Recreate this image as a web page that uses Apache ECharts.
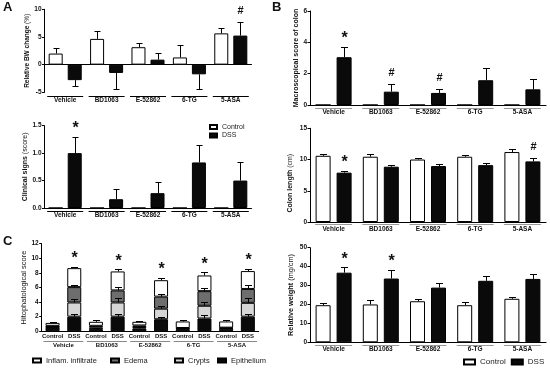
<!DOCTYPE html>
<html><head><meta charset="utf-8">
<script src="https://cdn.jsdelivr.net/npm/echarts@6/dist/echarts.min.js"></script>
<style>html,body{margin:0;padding:0;background:#fff}#c{width:550px;height:370px}</style>
</head><body><div id="c"></div>
<script>
const F = "'Liberation Sans', Arial, Helvetica, sans-serif";
const groups = ['Vehicle', 'BD1063', 'E-52862', '6-TG', '5-ASA'];
const histoSub = ['Control', 'DSS'];

// A (top): relative body-weight change (%)
const bwCtrl = [2.0, 4.65, 3.15, 1.3, 5.65];
const bwCtrlErr = [3.0, 6.05, 3.95, 3.5, 6.6];
const bwDss = [-2.8, -1.5, 0.9, -1.75, 5.25];
const bwDssErr = [-3.95, -4.4, 2.15, -4.4, 7.65];
const bwDssMark = ['', '', '', '', '#'];

// A (bottom): clinical signs (score)
const csCtrl = [0, 0, 0, 0, 0];
const csDss = [1.0, 0.16, 0.27, 0.83, 0.5];
const csDssErr = [1.3, 0.34, 0.47, 1.14, 0.84];
const csDssMark = ['*', '', '', '', ''];

// B (top): macroscopical score of colon
const macCtrl = [0, 0, 0, 0, 0];
const macDss = [3.05, 0.85, 0.77, 1.58, 1.0];
const macDssErr = [3.7, 1.34, 1.0, 2.35, 1.63];
const macDssMark = ['*', '#', '#', '', ''];

// B (middle): colon length (cm)
const clCtrl = [10.6, 10.45, 10.0, 10.45, 11.2];
const clCtrlErr = [10.9, 10.9, 10.3, 10.75, 11.75];
const clDss = [7.9, 8.85, 8.95, 9.1, 9.7];
const clDssErr = [8.2, 9.2, 9.25, 9.5, 10.3];
const clDssMark = ['*', '', '', '', '#'];

// B (bottom): relative weight (mg/cm)
const rwCtrl = [19.6, 20.0, 21.7, 19.6, 23.0];
const rwCtrlErr = [20.7, 22.1, 22.8, 21.4, 24.0];
const rwDss = [36.8, 33.7, 28.9, 32.5, 33.5];
const rwDssErr = [39.6, 38.4, 31.4, 34.9, 36.3];
const rwDssMark = ['*', '*', '', '', ''];

// C: histopathological score, stacked components
const epiCtrl = [0.6, 0.3, 0.4, 0.3, 0.35];
const crypCtrl = [0.05, 0.25, 0.2, 0.1, 0.1];
const edemaCtrl = [0.1, 0.2, 0.2, 0.05, 0.05];
const inflCtrl = [0.4, 0.55, 0.5, 0.9, 0.85];
const epiErrCtrl = [0.7, 0.45, 0.55, 0.4, 0.45];
const inflErrCtrl = [1.3, 1.55, 1.45, 1.6, 1.6];
const epiDss = [2.0, 2.0, 1.65, 1.75, 2.0];
const crypDss = [1.95, 1.95, 1.45, 1.75, 1.9];
const edemaDss = [2.1, 1.65, 1.65, 2.0, 1.9];
const inflDss = [2.6, 2.6, 2.25, 2.15, 2.45];
const epiErrDss = [2.35, 2.4, 1.95, 2.2, 2.4];
const crypErrDss = [4.4, 4.5, 3.5, 4.0, 4.5];
const edemaErrDss = [6.35, 6.1, 5.1, 5.95, 6.3];
const inflErrDss = [8.85, 8.5, 7.3, 8.1, 8.6];
const histoDssMark = ['*', '*', '*', '*', '*'];

// ---------- helpers ----------
const inter = (c, d) => { const r = []; c.forEach((v, i) => { r.push(v, d[i]); }); return r; };
const histoCats = []; groups.forEach(() => histoSub.forEach(s => histoCats.push(s)));

function yAx(gi, min, max, interval, weight, gap, fs, boldPart, normPart, fmt, pad) {
  return {
    type: 'value', gridIndex: gi, min, max, interval,
    name: normPart ? '{b|' + boldPart + '}{n| ' + normPart + '}' : '{b|' + boldPart + '}',
    nameLocation: 'middle', nameGap: gap,
    nameTextStyle: { padding: pad || 0, rich: {
      b: { fontSize: fs, fontWeight: weight, fontFamily: F, color: '#111' },
      n: { fontSize: fs, fontFamily: F, color: '#111' } } },
    axisLine: { show: true, onZero: false, lineStyle: { color: '#000', width: 1 } },
    axisTick: { show: true, length: 2.5, lineStyle: { color: '#000', width: 1 } },
    splitLine: { show: false },
    axisLabel: { fontSize: 6.5, fontWeight: 'bold', fontFamily: F, color: '#111', margin: 3, formatter: fmt }
  };
}
function xLab(gi, data, margin, showLine, fs) {
  return {
    type: 'category', gridIndex: gi, data, position: 'bottom',
    axisLine: { show: showLine, onZero: false, lineStyle: { color: '#000', width: 1 } },
    axisTick: { show: false }, splitLine: { show: false },
    axisLabel: { interval: 0, margin, fontSize: fs || 6.5, fontWeight: 'bold', fontFamily: F, color: '#111' }
  };
}
function bars(xi, yi, name, data, width, gap, color, stack) {
  return { type: 'bar', name, xAxisIndex: xi, yAxisIndex: yi, data, barWidth: width, barGap: gap,
    stack, itemStyle: { color, borderColor: '#000', borderWidth: 1 }, silent: true };
}
function errS(xi, yi, vals, ends, offset, cap, marks) {
  const data = vals.map((v, i) => [i, v, ends[i]]);
  return { type: 'custom', xAxisIndex: xi, yAxisIndex: yi, data, encode: { x: 0, y: [1, 2] }, silent: true, z: 5,
    renderItem(params, api) {
      const i = api.value(0), v = api.value(1), e = api.value(2);
      const p0 = api.coord([i, v]), p1 = api.coord([i, e]);
      const x = Math.round(p0[0] + offset) + 0.5;
      const ye = Math.round(p1[1]) + 0.5;
      const ch = [];
      if (Math.abs(e - v) > 1e-9) {
        ch.push({ type: 'line', shape: { x1: x, y1: p0[1], x2: x, y2: ye }, style: { stroke: '#000', lineWidth: 1 } });
        ch.push({ type: 'line', shape: { x1: x - cap / 2, y1: ye, x2: x + cap / 2, y2: ye }, style: { stroke: '#000', lineWidth: 1 } });
      }
      const m = marks ? marks[params.dataIndex] : '';
      if (m) {
        const star = m === '*';
        ch.push({ type: 'text', style: { text: m, x: x, y: p1[1] - (star ? 8 : 11),
          align: 'center', verticalAlign: 'middle', textAlign: 'center', textVerticalAlign: 'middle',
          font: star ? "bold 16px 'Liberation Sans', sans-serif" : "bold 11px 'Liberation Sans', sans-serif", fill: '#111' } });
      }
      return { type: 'group', children: ch };
    } };
}
// group lines drawn under the axis, one per category band (per pair of bands when pairs > 1)
function groupLines(xi, yi, n, pairs, below, len, color) {
  const data = []; for (let i = 0; i < n; i++) data.push([i * pairs, 0]);
  return { type: 'custom', xAxisIndex: xi, yAxisIndex: yi, data, encode: { x: 0, y: 1 }, silent: true, clip: false, z: 5,
    renderItem(params, api) {
      const i = api.value(0);
      const a = api.coord([i, 0])[0], b = api.coord([i + pairs - 1, 0])[0];
      const cx = (a + b) / 2;
      const cs = params.coordSys;
      const y = Math.round(cs.y + cs.height + below) + 0.5;
      return { type: 'line', shape: { x1: cx - len / 2, y1: y, x2: cx + len / 2, y2: y }, style: { stroke: color, lineWidth: 1 } };
    } };
}

// ---------- C stacked tops ----------
const cEpi = inter(epiCtrl, epiDss), cCryp = inter(crypCtrl, crypDss), cEde = inter(edemaCtrl, edemaDss), cInf = inter(inflCtrl, inflDss);
const top1 = cEpi.map(v => v);
const top2 = top1.map((v, i) => v + cCryp[i]);
const top3 = top2.map((v, i) => v + cEde[i]);
const top4 = top3.map((v, i) => v + cInf[i]);
const e1 = inter(epiErrCtrl, epiErrDss);
const e2 = inter(top2.filter((v, i) => i % 2 === 0), crypErrDss);
const e3 = inter(top3.filter((v, i) => i % 2 === 0), edemaErrDss);
const e4 = inter(inflErrCtrl, inflErrDss);
const cMarks = inter(['', '', '', '', ''], histoDssMark);

const chart = echarts.init(document.getElementById('c'), null, { renderer: 'canvas' });
const W = '#fff', K = '#0a0a0a';
const legText = fs => ({ fontSize: fs, fontFamily: F, color: '#222' });
chart.setOption({
  animation: false,
  backgroundColor: '#fff',
  textStyle: { fontFamily: F },
  title: [
    { text: 'A', left: 3, top: 1, padding: 0, textStyle: { fontSize: 13, fontWeight: 'bold', fontFamily: F, color: '#111' } },
    { text: 'B', left: 272, top: 1, padding: 0, textStyle: { fontSize: 13, fontWeight: 'bold', fontFamily: F, color: '#111' } },
    { text: 'C', left: 3, top: 235, padding: 0, textStyle: { fontSize: 13, fontWeight: 'bold', fontFamily: F, color: '#111' } }
  ],
  legend: [
    { data: ['Control', 'DSS'], orient: 'vertical', left: 209, top: 123.5, itemWidth: 7, itemHeight: 4, itemGap: 1.5, padding: 0, selectedMode: false, icon: 'rect', textStyle: legText(7) },
    { data: ['Control', 'DSS'], left: 463, top: 358, itemWidth: 11, itemHeight: 5, itemGap: 5, padding: 0, selectedMode: false, icon: 'rect', textStyle: legText(8) },
    { data: ['Inflam. infiltrate'], left: 32, top: 356.5, itemWidth: 8, itemHeight: 4, padding: 0, selectedMode: false, icon: 'rect', textStyle: legText(7.5) },
    { data: ['Edema'], left: 110, top: 356.5, itemWidth: 8, itemHeight: 4, padding: 0, selectedMode: false, icon: 'rect', textStyle: legText(7.5) },
    { data: ['Crypts'], left: 174, top: 356.5, itemWidth: 8, itemHeight: 4, padding: 0, selectedMode: false, icon: 'rect', textStyle: legText(7.5) },
    { data: ['Epithelium'], left: 217, top: 356.5, itemWidth: 8, itemHeight: 4, padding: 0, selectedMode: false, icon: 'rect', textStyle: legText(7.5) }
  ],
  grid: [
    { left: 44.5, top: 9.3, width: 207, height: 83, outerBoundsMode: 'none' },
    { left: 44.5, top: 125.7, width: 207, height: 82.3, outerBoundsMode: 'none' },
    { left: 41.7, top: 243.7, width: 217, height: 87.6, outerBoundsMode: 'none' },
    { left: 310, top: 11, width: 236, height: 94, outerBoundsMode: 'none' },
    { left: 310, top: 128.3, width: 236, height: 93.7, outerBoundsMode: 'none' },
    { left: 310, top: 247.7, width: 236, height: 94.6, outerBoundsMode: 'none' }
  ],
  xAxis: [
    { type: 'category', gridIndex: 0, data: groups, position: 'bottom',
      axisLine: { show: true, onZero: true, lineStyle: { color: '#000', width: 1 } }, axisTick: { show: false }, axisLabel: { show: false } },
    xLab(0, groups, 4, false),
    xLab(1, groups, 3.5, true),
    { type: 'category', gridIndex: 2, data: histoCats, position: 'bottom',
      axisLine: { show: true, onZero: false, lineStyle: { color: '#000', width: 1 } }, axisTick: { show: false },
      axisLabel: { interval: 0, margin: 2, fontSize: 6, fontWeight: 'bold', fontFamily: F, color: '#111' } },
    xLab(2, groups, 11.5, false, 6),
    xLab(3, groups, 4, true),
    xLab(4, groups, 3.5, true),
    xLab(5, groups, 3.5, true)
  ],
  yAxis: [
    yAx(0, -5, 10, 5, 'bold', 11, 6.5, 'Relative BW change', '(%)'),
    yAx(1, 0, 1.5, 0.5, 'bold', 16, 7, 'Clinical signs', '(score)', v => v.toFixed(1)),
    yAx(2, 0, 12, 2, 'normal', 13.4, 7.5, 'Hitophatological score', ''),
    yAx(3, 0, 6, 2, 'bold', 9.5, 7, 'Macroscopical score of colon', ''),
    yAx(4, 0, 15, 5, 'bold', 16.5, 7, 'Colon length', '(cm)', null, [0, 16, 0, 0]),
    yAx(5, 0, 50, 10, 'bold', 16, 7.3, 'Relative weight', '(mg/cm)')
  ],
  series: [
    bars(0, 0, 'Control', bwCtrl, 14, '36%', W),
    bars(0, 0, 'DSS', bwDss, 14, '36%', K),
    errS(0, 0, bwCtrl, bwCtrlErr, -9.5, 6),
    errS(0, 0, bwDss, bwDssErr, 9.5, 6, bwDssMark),
    groupLines(0, 0, 5, 1, 3.5, 36, '#000'),

    bars(2, 1, 'Control', csCtrl, 14, '36%', W),
    bars(2, 1, 'DSS', csDss, 14, '36%', K),
    errS(2, 1, csDss, csDssErr, 9.5, 6, csDssMark),
    groupLines(2, 1, 5, 1, 2.7, 36, '#000'),

    bars(3, 2, 'Epithelium', cEpi, 14, '0%', K, 'h'),
    bars(3, 2, 'Crypts', cCryp, 14, '0%', '#d6d6d6', 'h'),
    bars(3, 2, 'Edema', cEde, 14, '0%', '#6e6e6e', 'h'),
    bars(3, 2, 'Inflam. infiltrate', cInf, 14, '0%', W, 'h'),
    errS(3, 2, top1, e1, 0, 7),
    errS(3, 2, top2, e2, 0, 7),
    errS(3, 2, top3, e3, 0, 7),
    errS(3, 2, top4, e4, 0, 7, cMarks),
    groupLines(3, 2, 5, 2, 9.7, 40, '#888'),

    bars(5, 3, 'Control', macCtrl, 15, '40%', W),
    bars(5, 3, 'DSS', macDss, 15, '40%', K),
    errS(5, 3, macDss, macDssErr, 10.5, 7, macDssMark),
    groupLines(5, 3, 5, 1, 2.5, 37, '#999'),

    bars(6, 4, 'Control', clCtrl, 15, '40%', W),
    bars(6, 4, 'DSS', clDss, 15, '40%', K),
    errS(6, 4, clCtrl, clCtrlErr, -10.5, 7),
    errS(6, 4, clDss, clDssErr, 10.5, 7, clDssMark),
    groupLines(6, 4, 5, 1, 2.3, 37, '#999'),

    bars(7, 5, 'Control', rwCtrl, 15, '40%', W),
    bars(7, 5, 'DSS', rwDss, 15, '40%', K),
    errS(7, 5, rwCtrl, rwCtrlErr, -10.5, 7),
    errS(7, 5, rwDss, rwDssErr, 10.5, 7, rwDssMark),
    groupLines(7, 5, 5, 1, 2.5, 37, '#999')
  ]
});
</script></body></html>
